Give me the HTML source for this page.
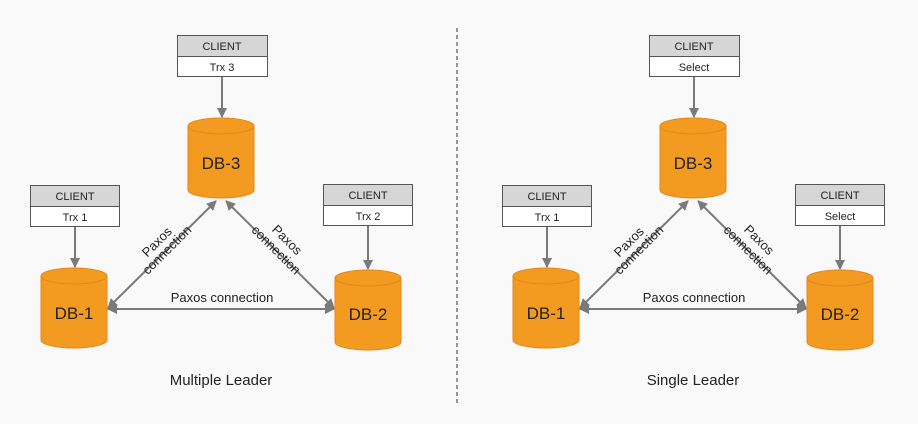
<!DOCTYPE html>
<html><head><meta charset="utf-8"><style>
html,body{margin:0;padding:0;background:#f9f9f9;}
svg{display:block;font-family:"Liberation Sans",sans-serif;}
</style></head><body>
<svg width="918" height="424" viewBox="0 0 918 424" xmlns="http://www.w3.org/2000/svg">
<defs>
<marker id="ah" viewBox="0 0 10 10" refX="9" refY="5" markerWidth="5" markerHeight="5" orient="auto-start-reverse"><path d="M0,0 L10,5 L0,10 z" fill="#7a7a7a"/></marker>
<g id="cyl">
<path d="M0,8 L0,72 A33,8 0 0 0 66,72 L66,8" fill="#f39b21" stroke="#e8861a" stroke-width="1"/>
<ellipse cx="33" cy="8" rx="33" ry="8" fill="#f39b21" stroke="#e8861a" stroke-width="1"/>
</g>
</defs>
<rect width="918" height="424" fill="#f9f9f9"/>
<line x1="457" y1="28" x2="457" y2="404" stroke="#333" stroke-width="1" stroke-dasharray="4,3"/>

<g id="L">
 <g fill="#fff" stroke="#555" stroke-width="1">
  <rect x="177.5" y="35.5" width="90" height="41"/>
  <rect x="30.5" y="185.5" width="89" height="41"/>
  <rect x="323.5" y="184.5" width="89" height="41"/>
 </g>
 <g fill="#d6d6d6" stroke="#555" stroke-width="1">
  <rect x="177.5" y="35.5" width="90" height="21"/>
  <rect x="30.5" y="185.5" width="89" height="21"/>
  <rect x="323.5" y="184.5" width="89" height="21"/>
 </g>
 <g font-size="11" fill="#222" text-anchor="middle">
  <text x="222" y="50">CLIENT</text>
  <text x="75" y="200">CLIENT</text>
  <text x="368" y="199">CLIENT</text>
 </g>
 <g stroke="#7a7a7a" stroke-width="2" marker-end="url(#ah)">
  <line x1="222" y1="77" x2="222" y2="117"/>
  <line x1="75" y1="227" x2="75" y2="267"/>
  <line x1="368" y1="226" x2="368" y2="269"/>
 </g>
 <use href="#cyl" x="188" y="118"/>
 <use href="#cyl" x="41" y="268"/>
 <use href="#cyl" x="335" y="270"/>
 <g font-size="17" fill="#222" text-anchor="middle">
  <text x="221" y="169">DB-3</text>
  <text x="74" y="319">DB-1</text>
  <text x="368" y="320">DB-2</text>
 </g>
 <g stroke="#7a7a7a" stroke-width="2" marker-end="url(#ah)" marker-start="url(#ah)">
  <line x1="108" y1="308" x2="216" y2="201"/>
  <line x1="226" y1="201" x2="334" y2="308"/>
  <line x1="108" y1="309" x2="334" y2="309"/>
 </g>
 <text x="222" y="302" font-size="13" fill="#222" text-anchor="middle">Paxos connection</text>
 <g font-size="13" fill="#222" text-anchor="middle">
  <text transform="translate(160,245) rotate(-45)" x="0" y="0">Paxos</text>
  <text transform="translate(170,253) rotate(-45)" x="0" y="0">connection</text>
  <text transform="translate(284,243) rotate(45)" x="0" y="0">Paxos</text>
  <text transform="translate(273,253) rotate(45)" x="0" y="0">connection</text>
 </g>
</g>
<use href="#L" x="472" y="0"/>
<g font-size="11" fill="#222" text-anchor="middle">
 <text x="222" y="71">Trx 3</text>
 <text x="75" y="221">Trx 1</text>
 <text x="368" y="220">Trx 2</text>
 <text x="694" y="71">Select</text>
 <text x="547" y="221">Trx 1</text>
 <text x="840" y="220">Select</text>
</g>
<g font-size="15" fill="#222" text-anchor="middle">
 <text x="221" y="385">Multiple Leader</text>
 <text x="693" y="385">Single Leader</text>
</g>
</svg>
</body></html>
